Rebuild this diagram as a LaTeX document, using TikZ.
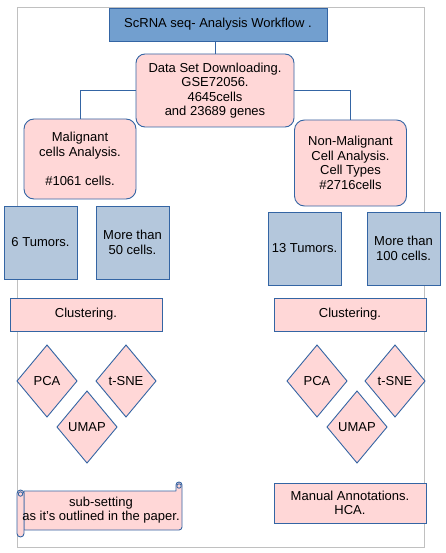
\documentclass[tikz,border=0pt]{standalone}
\usepackage{fontspec}
\setmainfont{Liberation Sans}
\usetikzlibrary{shapes.geometric}
\definecolor{pinkfill}{HTML}{FFD7D7}
\definecolor{bluefill}{HTML}{B4C7DC}
\definecolor{titlefill}{HTML}{729FCF}
\definecolor{edgeblue}{HTML}{3465A4}
\definecolor{framegray}{HTML}{C0C0C0}
\begin{document}
\begin{tikzpicture}[x=1pt,y=-1pt,
  every node/.style={font=\fontsize{13}{14.5}\selectfont, align=center, inner sep=0pt, outer sep=0pt},
  base/.style={draw=edgeblue, line width=0.9pt},
  titlebox/.style={base, fill=titlefill, rectangle, minimum width=218pt, minimum height=33pt},
  roundbox/.style={base, fill=pinkfill, rectangle, rounded corners=9pt},
  pinkbox/.style={base, fill=pinkfill, rectangle},
  sqbox/.style={base, fill=bluefill, rectangle, minimum width=73pt, minimum height=73pt},
  diam/.style={base, fill=pinkfill, diamond, minimum width=60pt, minimum height=72pt},
  conn/.style={draw=edgeblue, line width=0.9pt}
]
\useasboundingbox (0,0) rectangle (445,553);
\fill[white] (0,0) rectangle (445,553);
\draw[framegray, line width=0.9pt] (17,7) rectangle (424,547);

\node[titlebox] (title) at (218,24.5) {ScRNA seq- Analysis Workflow .};
\node[roundbox, minimum width=158pt, minimum height=73pt] (data) at (215,90.5)
  {Data Set Downloading.\\GSE72056.\\4645cells\\and 23689 genes};
\node[roundbox, rounded corners=10pt, minimum width=112pt, minimum height=80pt] (mal) at (80,159)
  {Malignant\\cells Analysis.\\\\\#1061 cells.};
\node[roundbox, rounded corners=10pt, minimum width=112pt, minimum height=86pt] (nonmal) at (350.5,163)
  {Non-Malignant\\Cell Analysis.\\Cell Types\\\#2716cells};

\draw[conn] (data.north) -- (data.north |- title.south);
\draw[conn] (data.west) -| (mal.north);
\draw[conn] (data.east) -| (nonmal.north);

\node[sqbox] (t6) at (40.5,242.5) {6 Tumors.};
\node[sqbox] (m50) at (132.5,242.5) {More than\\50 cells.};
\node[sqbox] (t13) at (304.5,248.5) {13 Tumors.};
\node[sqbox] (m100) at (403.5,248.5) {More than\\100 cells.};

\node[pinkbox, minimum width=152pt, minimum height=33pt] (clL) at (86,314.5) {Clustering.};
\node[pinkbox, minimum width=152pt, minimum height=33pt] (clR) at (350,314.5) {Clustering.};

\node[diam] (pcaL) at (47,381) {PCA};
\node[diam] (tsneL) at (126,381) {t-SNE};
\node[diam] (umapL) at (87,427) {UMAP};
\node[diam] (pcaR) at (317,381) {PCA};
\node[diam] (tsneR) at (395,381) {t-SNE};
\node[diam] (umapR) at (357,427) {UMAP};

% scroll
\draw[base, fill=pinkfill, line join=round] (24,491) -- (176,491) -- (176,485) arc (180:360:3) -- (182,527) arc (0:90:3) -- (24,530) -- cycle;
\draw[base, fill=pinkfill] (179,486) circle (2.2);
\draw[base, fill=pinkfill, rounded corners=3.5pt] (17,490) rectangle (24,537);
\draw[base, fill=pinkfill] (20.5,494) circle (2.2);
\node (sub) at (101,510) {sub-setting\\as it's outlined in the paper.};

\node[pinkbox, minimum width=152pt, minimum height=40pt] (man) at (350,503) {Manual Annotations.\\HCA.};
\end{tikzpicture}
\end{document}
